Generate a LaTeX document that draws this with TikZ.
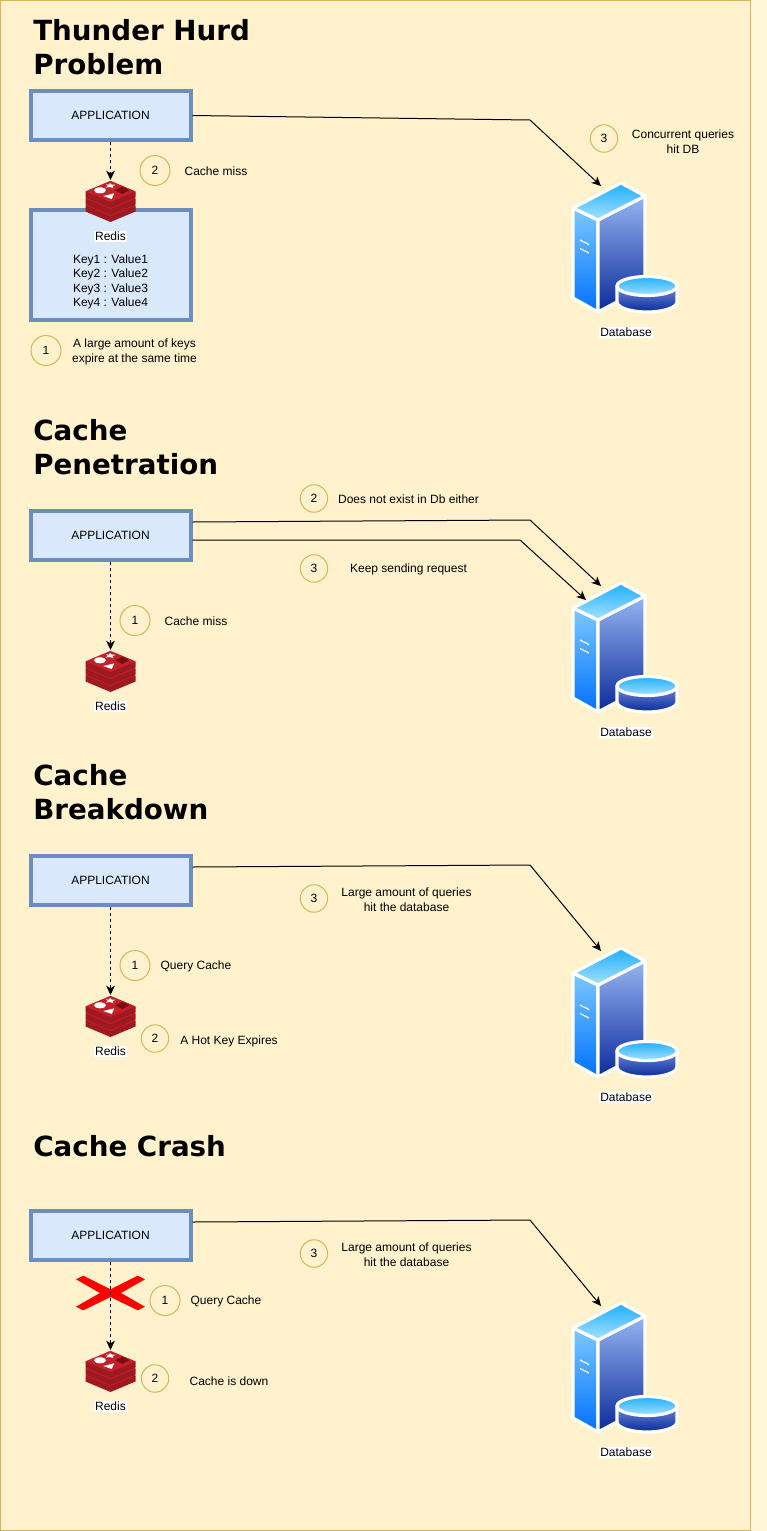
\documentclass[tikz,border=0pt]{standalone}
\usepackage{fontspec}
\setmainfont{Liberation Sans}
\newfontfamily\titlefont{DejaVu Sans}
\usetikzlibrary{arrows.meta}
\definecolor{pagebg}{HTML}{FFF7D6}
\definecolor{panelfill}{HTML}{FFF2CC}
\definecolor{panelline}{HTML}{D6B656}
\definecolor{boxfill}{HTML}{DAE8FC}
\definecolor{boxline}{HTML}{6C8EBF}
\definecolor{redisA}{HTML}{9E1A20}
\definecolor{redisB}{HTML}{C4202A}
\definecolor{redisC}{HTML}{7A0C12}
\definecolor{dbleftT}{HTML}{7CC8FF}
\definecolor{dbleftB}{HTML}{0072FF}
\definecolor{dbrightT}{HTML}{95B5F2}
\definecolor{dbrightB}{HTML}{0B2A9C}
\definecolor{dbtopT}{HTML}{1EAEFF}
\definecolor{dbtopB}{HTML}{A6E2FF}
\newcommand{\low}[1]{\raisebox{-0.75pt}{#1}}
\tikzset{
  x=0.75pt,y=-0.75pt,
  appbox/.style={draw=boxline,fill=boxfill,line width=3pt,minimum width=120pt,minimum height=37pt,inner sep=0pt,font=\fontsize{9}{10.5}\selectfont},
  cachebox/.style={draw=boxline,fill=boxfill,line width=3pt,minimum width=120pt,minimum height=82pt,inner sep=0pt},
  numdot/.style={circle,draw=panelline,line width=0.75pt,minimum size=22.5pt,inner sep=0pt,font=\fontsize{9}{10.5}\selectfont},
  numdotsm/.style={numdot,minimum size=20.6pt},
  lbl/.style={align=center,inner sep=0pt,yshift=-0.75pt,font=\fontsize{9}{11.25}\selectfont},
  keylbl/.style={align=center,inner sep=0pt,yshift=-1.1pt,font=\fontsize{9}{10.65}\selectfont},
  iconlbl/.style={fill=white,inner sep=0.8pt,yshift=-0.5pt,font=\fontsize{9}{10.5}\selectfont},
  headline/.style={anchor=west,align=left,inner sep=0pt,font=\titlefont\bfseries\fontsize{20.8}{25.5}\selectfont},
  solidlink/.style={draw=black,line width=0.75pt,-{Stealth[length=7pt,width=6.5pt,inset=2pt]}},
  dashlink/.style={draw=black,line width=0.75pt,dash pattern=on 2.25pt off 2.25pt,-{Stealth[length=7pt,width=6.5pt,inset=2pt]}},
}
% redis icon: #1 name, #2 x centre, #3 y top
\newcommand{\redisicon}[3]{%
  \begin{scope}[shift={(#2,#3)}]
    \foreach \d in {14,7,0}{
      \fill[redisA] (-25,10.5+\d) -- (-25,16.5+\d) -- (0,27+\d) -- (25,16.5+\d) -- (25,10.5+\d) -- (0,\d) -- cycle;
      \fill[redisB] (-25,10.5+\d) -- (0,21+\d) -- (25,10.5+\d) -- (0,\d) -- cycle;
    }
    \fill[white] (-10.5,9.3) ellipse [x radius=6,y radius=3];
    \fill[white] (-0.5,1.8) -- (1.2,3.6) -- (5,3.8) -- (2,5.2) -- (3,7.2) -- (-0.5,6) -- (-5,6.6) -- (-2.5,4.8) -- (-4.5,3.4) -- (-1.5,3.6) -- cycle;
    \fill[white] (3.8,12.3) -- (-7.2,15) -- (1.2,18) -- cycle;
    \fill[redisC] (11.7,5.7) -- (19,9.3) -- (11.7,13) -- (4.5,9.3) -- cycle;
    \coordinate (#1) at (0,-1);
  \end{scope}}
% database icon: #1 name, #2 x, #3 y of top vertex, #4 y of label
\newcommand{\dbicon}[4]{%
  \begin{scope}[shift={(#2,#3)},draw=white,line width=2.4pt,line join=round]
    \shade[top color=dbleftT,bottom color=dbleftB] (-48,25) -- (-23,37) -- (-23,129) -- (-48,115) -- cycle;
    \draw (-48,25) -- (-23,37) -- (-23,129) -- (-48,115) -- cycle;
    \shade[top color=dbrightT,bottom color=dbrightB] (-23,37) -- (24,13) -- (24,104) -- (-23,129) -- cycle;
    \draw (-23,37) -- (24,13) -- (24,104) -- (-23,129) -- cycle;
    \shade[top color=dbtopT,bottom color=dbtopB] (0,0) -- (24,13) -- (-23,37) -- (-48,25) -- cycle;
    \draw (0,0) -- (24,13) -- (-23,37) -- (-48,25) -- cycle;
    \draw[line width=0.9pt] (-41,57) -- (-32,61.5) (-41,65.5) -- (-32,70);
    \shade[top color=dbrightT!70!dbrightB,bottom color=dbrightB] (-4,103) -- (56,103) -- (56,119) arc [start angle=0,end angle=180,x radius=30,y radius=10] -- cycle;
    \draw (-4,103) -- (-4,119) arc [start angle=180,end angle=0,x radius=30,y radius=10] -- (56,103);
    \shade[top color=dbtopT,bottom color=dbtopB] (26,103) ellipse [x radius=30,y radius=9.5];
    \draw (26,103) ellipse [x radius=30,y radius=9.5];
    \coordinate (#1a) at (-20,3);
    \coordinate (#1b) at (-35,17);
  \end{scope}
  \node[iconlbl] (#1lbl) at (#2+5,#4) {Database};}
\begin{document}
\begin{tikzpicture}
\useasboundingbox (0,0) rectangle (767,1531);
\fill[pagebg] (0,0) rectangle (767,1531);
\draw[draw=panelline,fill=panelfill,line width=0.75pt] (0,0) rectangle (750.5,1530);

% ---- Thunder Hurd
\node[headline] (t1) at (33,47) {Thunder Hurd\\Problem};
\node[appbox] (app1) at (110.5,115.5) {\low{APPLICATION}};
\node[cachebox] (cache1) at (110.5,265) {};
\redisicon{r1}{110.5}{181}
\node[iconlbl] (r1lbl) at (110.5,236) {Redis};
\node[keylbl] (keys) at (110.5,280.5) {Key1 : Value1\\Key2 : Value2\\Key3 : Value3\\Key4 : Value4};
\dbicon{d1}{621}{183}{332}
\coordinate (b1) at (530,120);
\draw[solidlink] (app1.east) -- (b1) -- (d1a);
\draw[dashlink] (app1.south) -- (r1);
\node[numdot] (n12) at (155,170.5) {\low{2}};
\node[lbl] (l12) at (216,170) {Cache miss};
\node[numdot] (n11) at (46,350.5) {\low{1}};
\node[lbl] (l11) at (134.5,351) {A large amount of keys\\expire at the same time};
\node[numdotsm] (n13) at (604,138.5) {\low{3}};
\node[lbl] (l13) at (683,140.5) {Concurrent queries\\hit DB};

% ---- Cache Penetration
\node[headline] (t2) at (33,447) {Cache\\Penetration};
\node[appbox] (app2) at (110.5,535.5) {\low{APPLICATION}};
\redisicon{r2}{110.5}{651}
\node[iconlbl] (r2lbl) at (110.5,706) {Redis};
\dbicon{d2}{621}{583}{732}
\coordinate (a2u) at (app2.east |- 0,522);
\coordinate (a2l) at (app2.east |- 0,540);
\coordinate (b2u) at (530,520);
\coordinate (b2l) at (520,540);
\draw[solidlink] (a2u) -- (b2u) -- (d2a);
\draw[solidlink] (a2l) -- (b2l) -- (d2b);
\draw[dashlink] (app2.south) -- (r2);
\node[numdotsm] (n22) at (314,498.5) {\low{2}};
\node[lbl] (l22) at (408.5,498) {Does not exist in Db either};
\node[numdotsm] (n23) at (314,568.5) {\low{3}};
\node[lbl] (l23) at (408.5,568) {Keep sending request};
\node[numdot] (n21) at (135,620.5) {\low{1}};
\node[lbl] (l21) at (196,620) {Cache miss};

% ---- Cache Breakdown
\node[headline] (t3) at (33,792) {Cache\\Breakdown};
\node[appbox] (app3) at (110.5,880.5) {\low{APPLICATION}};
\redisicon{r3}{110.5}{996}
\node[iconlbl] (r3lbl) at (110.5,1051) {Redis};
\dbicon{d3}{621}{948}{1097}
\coordinate (a3) at (app3.east |- 0,867);
\coordinate (b3) at (530,865);
\draw[solidlink] (a3) -- (b3) -- (d3a);
\draw[dashlink] (app3.south) -- (r3);
\node[numdotsm] (n33) at (314,898.5) {\low{3}};
\node[lbl] (l33) at (406.5,898.5) {Large amount of queries\\hit the database};
\node[numdot] (n31) at (135,965.5) {\low{1}};
\node[lbl] (l31) at (196,965) {Query Cache};
\node[numdotsm] (n32) at (155,1038.5) {\low{2}};
\node[lbl] (l32) at (229,1040) {A Hot Key Expires};

% ---- Cache Crash
\node[headline] (t4) at (33,1146) {Cache Crash};
\node[appbox] (app4) at (110.5,1235.5) {\low{APPLICATION}};
\redisicon{r4}{110.5}{1351}
\node[iconlbl] (r4lbl) at (110.5,1406) {Redis};
\dbicon{d4}{621}{1303}{1452}
\coordinate (a4) at (app4.east |- 0,1222);
\coordinate (b4) at (530,1220);
\draw[solidlink] (a4) -- (b4) -- (d4a);
\fill[red] (76,1279.3) -- (83.3,1275.7) -- (110.5,1289.3) -- (137.7,1275.7) -- (145,1279.3) -- (121,1293) -- (145,1306.7) -- (137.7,1310.3) -- (110.5,1297) -- (83.3,1310.3) -- (76,1306.7) -- (100,1293) -- cycle;
\draw[dashlink] (app4.south) -- (r4);
\node[numdotsm] (n43) at (314,1253.5) {\low{3}};
\node[lbl] (l43) at (406.5,1253.5) {Large amount of queries\\hit the database};
\node[numdot] (n41) at (165,1300.5) {\low{1}};
\node[lbl] (l41) at (226,1300) {Query Cache};
\node[numdotsm] (n42) at (155,1378.5) {\low{2}};
\node[lbl] (l42) at (229,1380) {Cache is down};
\end{tikzpicture}
\end{document}
